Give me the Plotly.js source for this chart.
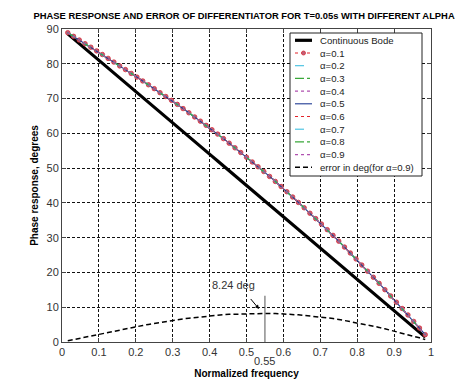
<!DOCTYPE html>
<html>
<head>
<meta charset="utf-8">
<script src="https://cdn.plot.ly/plotly-3.0.1.min.js"></script>
<style>html,body{margin:0;padding:0;background:#fff;}#chart{width:474px;height:384px;}</style>
</head>
<body>
<div id="chart"></div>
<script>
// ---- data ----
const freq = [0.0156,0.0313,0.0469,0.0625,0.0781,0.0938,0.1094,0.125,0.1406,0.1563,0.1719,0.1875,0.2031,0.2188,0.2344,0.25,0.2656,0.2813,0.2969,0.3125,0.3281,0.3438,0.3594,0.375,0.3906,0.4063,0.4219,0.4375,0.4531,0.4688,0.4844,0.5,0.5156,0.5313,0.5469,0.5625,0.5781,0.5938,0.6094,0.625,0.6406,0.6563,0.6719,0.6875,0.7031,0.7188,0.7344,0.75,0.7656,0.7813,0.7969,0.8125,0.8281,0.8438,0.8594,0.875,0.8906,0.9063,0.9219,0.9375,0.9531,0.9688,0.9844];
const bodePhase = [88.59,87.19,85.78,84.38,82.97,81.56,80.16,78.75,77.34,75.94,74.53,73.13,71.72,70.31,68.91,67.5,66.09,64.69,63.28,61.88,60.47,59.06,57.66,56.25,54.84,53.44,52.03,50.63,49.22,47.81,46.41,45.0,43.59,42.19,40.78,39.38,37.97,36.56,35.16,33.75,32.34,30.94,29.53,28.13,26.72,25.31,23.91,22.5,21.09,19.69,18.28,16.88,15.47,14.06,12.66,11.25,9.84,8.44,7.03,5.63,4.22,2.81,1.41];
const alphaPhase = [88.94,87.89,86.83,85.78,84.77,83.71,82.66,81.55,80.49,79.39,78.33,77.23,76.17,75.06,73.96,72.85,71.69,70.59,69.48,68.33,67.12,65.91,64.71,63.5,62.29,61.04,59.78,58.48,57.17,55.83,54.49,53.12,51.76,50.4,49.02,47.61,46.17,44.71,43.21,41.7,40.14,38.59,37.03,35.48,33.92,32.31,30.66,29.0,27.29,25.59,23.88,22.13,20.37,18.61,16.86,15.05,13.24,11.44,9.63,7.78,5.92,4.01,2.11];
const errorDeg = [0.35,0.7,1.05,1.4,1.8,2.15,2.5,2.8,3.15,3.45,3.8,4.1,4.45,4.75,5.05,5.35,5.6,5.9,6.2,6.45,6.65,6.85,7.05,7.25,7.45,7.6,7.75,7.85,7.95,8.02,8.08,8.12,8.17,8.21,8.24,8.23,8.2,8.15,8.05,7.95,7.8,7.65,7.5,7.35,7.2,7.0,6.75,6.5,6.2,5.9,5.6,5.25,4.9,4.55,4.2,3.8,3.4,3.0,2.6,2.15,1.7,1.2,0.7];
const alphaLabels = ["α=0.1","α=0.2","α=0.3","α=0.4","α=0.5","α=0.6","α=0.7","α=0.8","α=0.9"];
const peakFreq = 0.55;
const peakError = 8.24;
const xTicks = [0,0.1,0.2,0.3,0.4,0.5,0.6,0.7,0.8,0.9,1];
const yTicks = [0,10,20,30,40,50,60,70,80,90];

// ---- styles ----
const FONT = 'Liberation Sans, Arial, sans-serif';
const alphaColors = ['#e3242b','#3fbfe0','#3aa83a','#b050b0','#1f3a93','#e3242b','#3fbfe0','#3aa83a','#b050b0'];
const alphaDash = ['dot','dash','dashdot','dot','solid','dot','dash','dashdot','dot'];
const markerFill = '#c0607a';

const traces = [];
traces.push({x: freq, y: bodePhase, mode:'lines', name:'Continuous Bode', line:{color:'#000', width:3.2}});
alphaLabels.forEach((lab, i) => {
  const t = {x: freq, y: alphaPhase, mode: i === 0 ? 'lines+markers' : 'lines', name: lab,
    line:{color: alphaColors[i], dash: alphaDash[i], width:1.1}};
  if (i === 0) t.marker = {symbol:'circle', size:4.5, color: markerFill, line:{color:'#d8303a', width:0.8}};
  traces.push(t);
});
traces.push({x: freq, y: errorDeg, mode:'lines', name:'error in deg(for α=0.9)',
  line:{color:'#000', dash:'5px,3px', width:1.5}});

// ---- manual legend (pixel layout converted to paper coords) ----
const L = 62, T = 29, W = 369, H = 313;
const px = v => (v - L) / W;
const py = v => (T + H - v) / H;
const legendNames = ['Continuous Bode'].concat(alphaLabels).concat(['error in deg(for α=0.9)']);
const legendColors = ['#000'].concat(alphaColors).concat(['#000']);
const legendDash = ['solid'].concat(alphaDash).concat(['5px,3px']);
const legendWidth = [3.2,1.1,1.1,1.1,1.1,1.1,1.1,1.1,1.1,1.1,1.5];

const shapes = [];
const annotations = [];
shapes.push({type:'rect', xref:'paper', yref:'paper', x0:px(290), x1:px(422), y0:py(176), y1:py(33),
  fillcolor:'#fff', line:{color:'#222', width:1}, layer:'above'});
legendNames.forEach((nm, i) => {
  const yc = 40.3 + 12.7 * i;
  shapes.push({type:'line', xref:'paper', yref:'paper', x0:px(295), x1:px(312), y0:py(yc), y1:py(yc),
    line:{color: legendColors[i], width: legendWidth[i], dash: legendDash[i]}, layer:'above'});
  if (i === 1) {
    shapes.push({type:'circle', xref:'paper', yref:'paper', x0:px(301.5), x1:px(305.5), y0:py(yc+2), y1:py(yc-2),
      fillcolor: markerFill, line:{color:'#d8303a', width:0.8}, layer:'above'});
  }
  annotations.push({xref:'paper', yref:'paper', x:px(318), y:py(yc), xanchor:'left', yanchor:'middle',
    text:nm, showarrow:false, font:{family:FONT, size:9.6, color:'#222'}});
});

// peak marker
shapes.push({type:'line', xref:'x', yref:'y', x0:peakFreq, x1:peakFreq, y0:0, y1:13.3,
  line:{color:'#555', width:1}});
annotations.push({xref:'x', yref:'y', x:0.534, y:9.5, ax:0.508, ay:12.8, axref:'x', ayref:'y',
  text:'', showarrow:true, arrowhead:2, arrowsize:0.8, arrowwidth:1, arrowcolor:'#000'});
annotations.push({xref:'x', yref:'y', x:0.40, y:16.4, xanchor:'left', yanchor:'middle',
  text: peakError + ' deg', showarrow:false, font:{family:FONT, size:11, color:'#333'}});
annotations.push({xref:'x', yref:'paper', x:peakFreq, y:py(361), xanchor:'center', yanchor:'middle',
  text: String(peakFreq), showarrow:false, font:{family:FONT, size:11, color:'#333'}});

const axisCommon = {
  showline:true, linecolor:'#444', linewidth:1, mirror:'ticks',
  ticks:'inside', ticklen:4, tickcolor:'#444',
  showgrid:true, gridcolor:'#111', gridwidth:1, griddash:'3px,2px',
  zeroline:false, tickfont:{family:FONT, size:11, color:'#333'}
};

const layout = {
  width:474, height:384,
  margin:{l:L, r:474-L-W, t:T, b:384-T-H},
  paper_bgcolor:'#fff', plot_bgcolor:'#fff',
  showlegend:false,
  title:{text:'PHASE RESPONSE AND ERROR OF DIFFERENTIATOR FOR T=0.05s WITH DIFFERENT ALPHA',
    font:{family:FONT, size:9.4, color:'#000', weight:'bold'},
    xref:'container', x:0.515, xanchor:'center', yref:'container', y:1-16/384, yanchor:'middle'},
  xaxis: Object.assign({}, axisCommon, {range:[0,1], tickvals:xTicks, ticktext:xTicks.map(String),
    title:{text:'<b>Normalized frequency</b>', font:{family:FONT, size:10, color:'#000'}, standoff:12}}),
  yaxis: Object.assign({}, axisCommon, {range:[0,90], tickvals:yTicks, ticktext:yTicks.map(String),
    title:{text:'<b>Phase response, degrees</b>', font:{family:FONT, size:10, color:'#000'}, standoff:6}}),
  shapes: shapes,
  annotations: annotations
};

Plotly.newPlot('chart', traces, layout, {displayModeBar:false, staticPlot:true});
</script>
</body>
</html>
